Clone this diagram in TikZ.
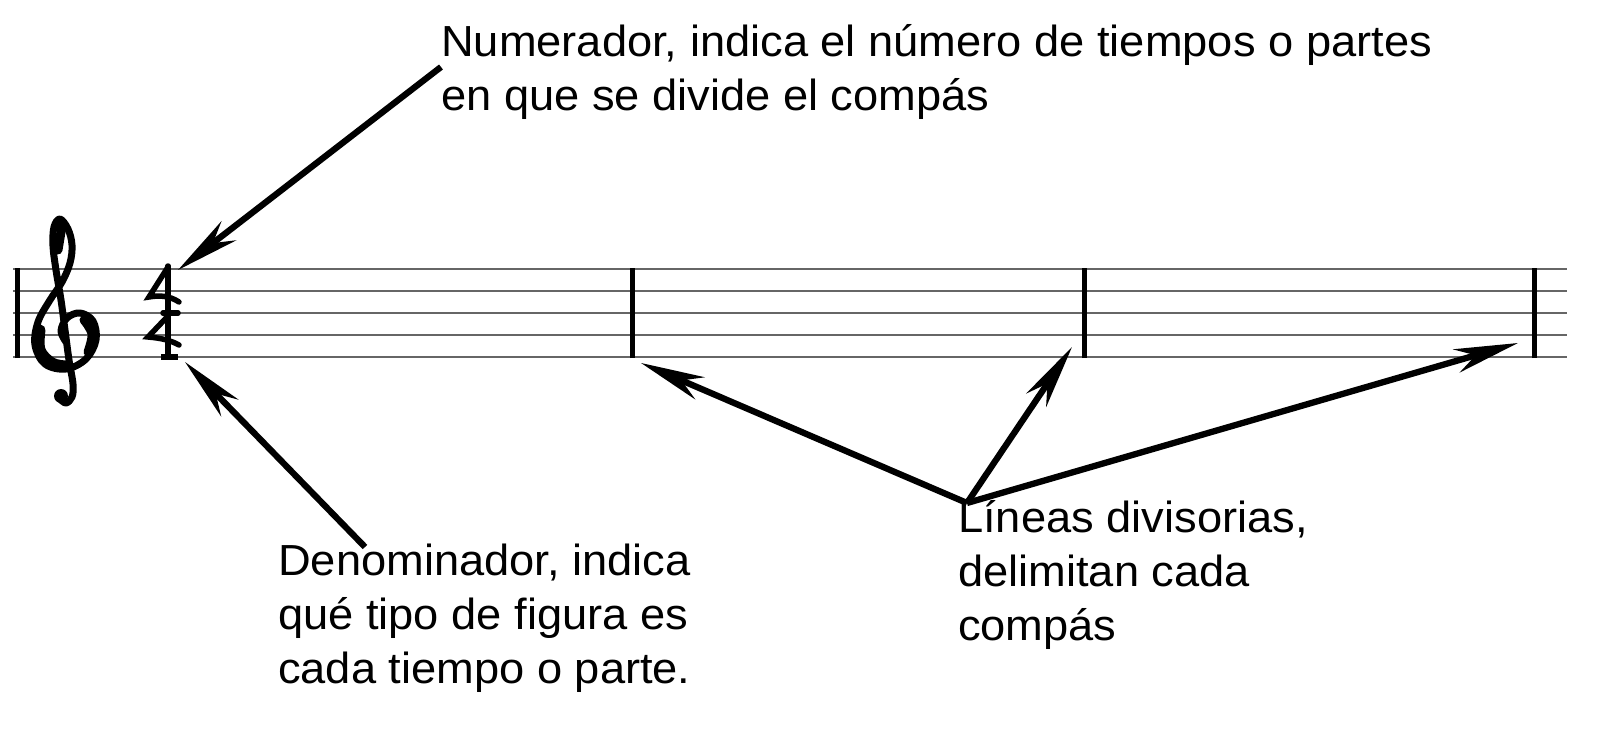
\documentclass[tikz,border=0pt]{standalone}
\usepackage{fontspec}
\setmainfont{Liberation Sans}
\usepackage{graphicx}
\usetikzlibrary{arrows.meta}
\begin{document}
\begin{tikzpicture}[x=1pt,y=-1pt,
  staffline/.style={line width=1.8pt, black!60},
  barline/.style={line width=5pt, black},
  pointer/.style={line width=6.3pt, -{Stealth[length=64pt,width=24pt,inset=20pt]}},
  lbl/.style={anchor=base west, inner sep=0pt, font=\fontsize{43.5}{54}\selectfont},
  clef/.style={line width=7pt, line cap=round, line join=round},
  tsig/.style={line width=5.5pt, line cap=round}]
\useasboundingbox[fill=white] (0,0) rectangle (1600,754);
% staff
\foreach \y in {269,291,313,335,357} \draw[staffline] (13,\y) -- (1567,\y);
% barlines
\coordinate (bar0) at (17,313);
\coordinate (bar1) at (632,313);
\coordinate (bar2) at (1084,313);
\coordinate (bar3) at (1534,313);
\foreach \b in {bar0,bar1,bar2,bar3} \draw[barline] ([yshift=-45pt]\b) -- ([yshift=45pt]\b);
% treble clef
\draw[clef] plot[smooth, tension=0.6] coordinates {(66,342) (61,331) (67,318) (80,313) (93,321) (96,340) (86,359) (66,369) (45,364) (35,345) (38,322) (50,300) (62,282) (70,263) (72,245) (68,229) (60,219) (54,227) (53,246) (56,270) (61,300) (65,330) (69,360) (73,384) (72,397) (66,403) (60,399)};
\draw[line width=11pt, line cap=round] plot[smooth, tension=0.6] coordinates {(40,330) (40,350) (52,363) (66,366)};
\draw[line width=9pt, line cap=round] plot[smooth, tension=0.6] coordinates {(84,320) (92,334) (88,352)};
\draw[line width=9pt, line cap=round] (62,226) -- (58,250);
\fill (61,396) circle (7);
% time signature 4/4
\draw[tsig] (168,266) -- (168,357);
\draw[tsig] (168,267) -- (149,297) .. controls (160,295) and (170,296) .. (179,302);
\draw[tsig] (163,313) -- (178,313);
\draw[tsig] (168,316) -- (148,337) .. controls (160,338) and (170,340) .. (179,345);
\draw[line width=5.5pt] (161,357) -- (178,357);
% labels
\node[lbl] (num) at (441,57) {\scalebox{1.04}[1]{\begin{tabular}[t]{@{}l@{}}Numerador, indica el número de tiempos o partes\\en que se divide el compás\end{tabular}}};
\node[lbl] (den) at (278,575) {\scalebox{1.04}[1]{\begin{tabular}[t]{@{}l@{}}Denominador, indica\\qué tipo de figura es\\cada tiempo o parte.\end{tabular}}};
\node[lbl] (lin) at (958,532) {\scalebox{1.04}[1]{\begin{tabular}[t]{@{}l@{}}Líneas divisorias,\\delimitan cada\\compás\end{tabular}}};
% arrow ends
\coordinate (numsrc) at (441,67);
\coordinate (numtip) at (178,270);
\coordinate (densrc) at (365,547);
\coordinate (dentip) at (185,362);
\coordinate (linsrc) at (967,503);
\coordinate (tip1) at (641,363);
\coordinate (tip2) at (1072,347);
\coordinate (tip3) at (1518,343);
\draw[pointer] (numsrc) -- (numtip);
\draw[pointer] (densrc) -- (dentip);
\draw[pointer] (linsrc) -- (tip1);
\draw[pointer] (linsrc) -- (tip2);
\draw[pointer] (linsrc) -- (tip3);
\end{tikzpicture}
\end{document}
